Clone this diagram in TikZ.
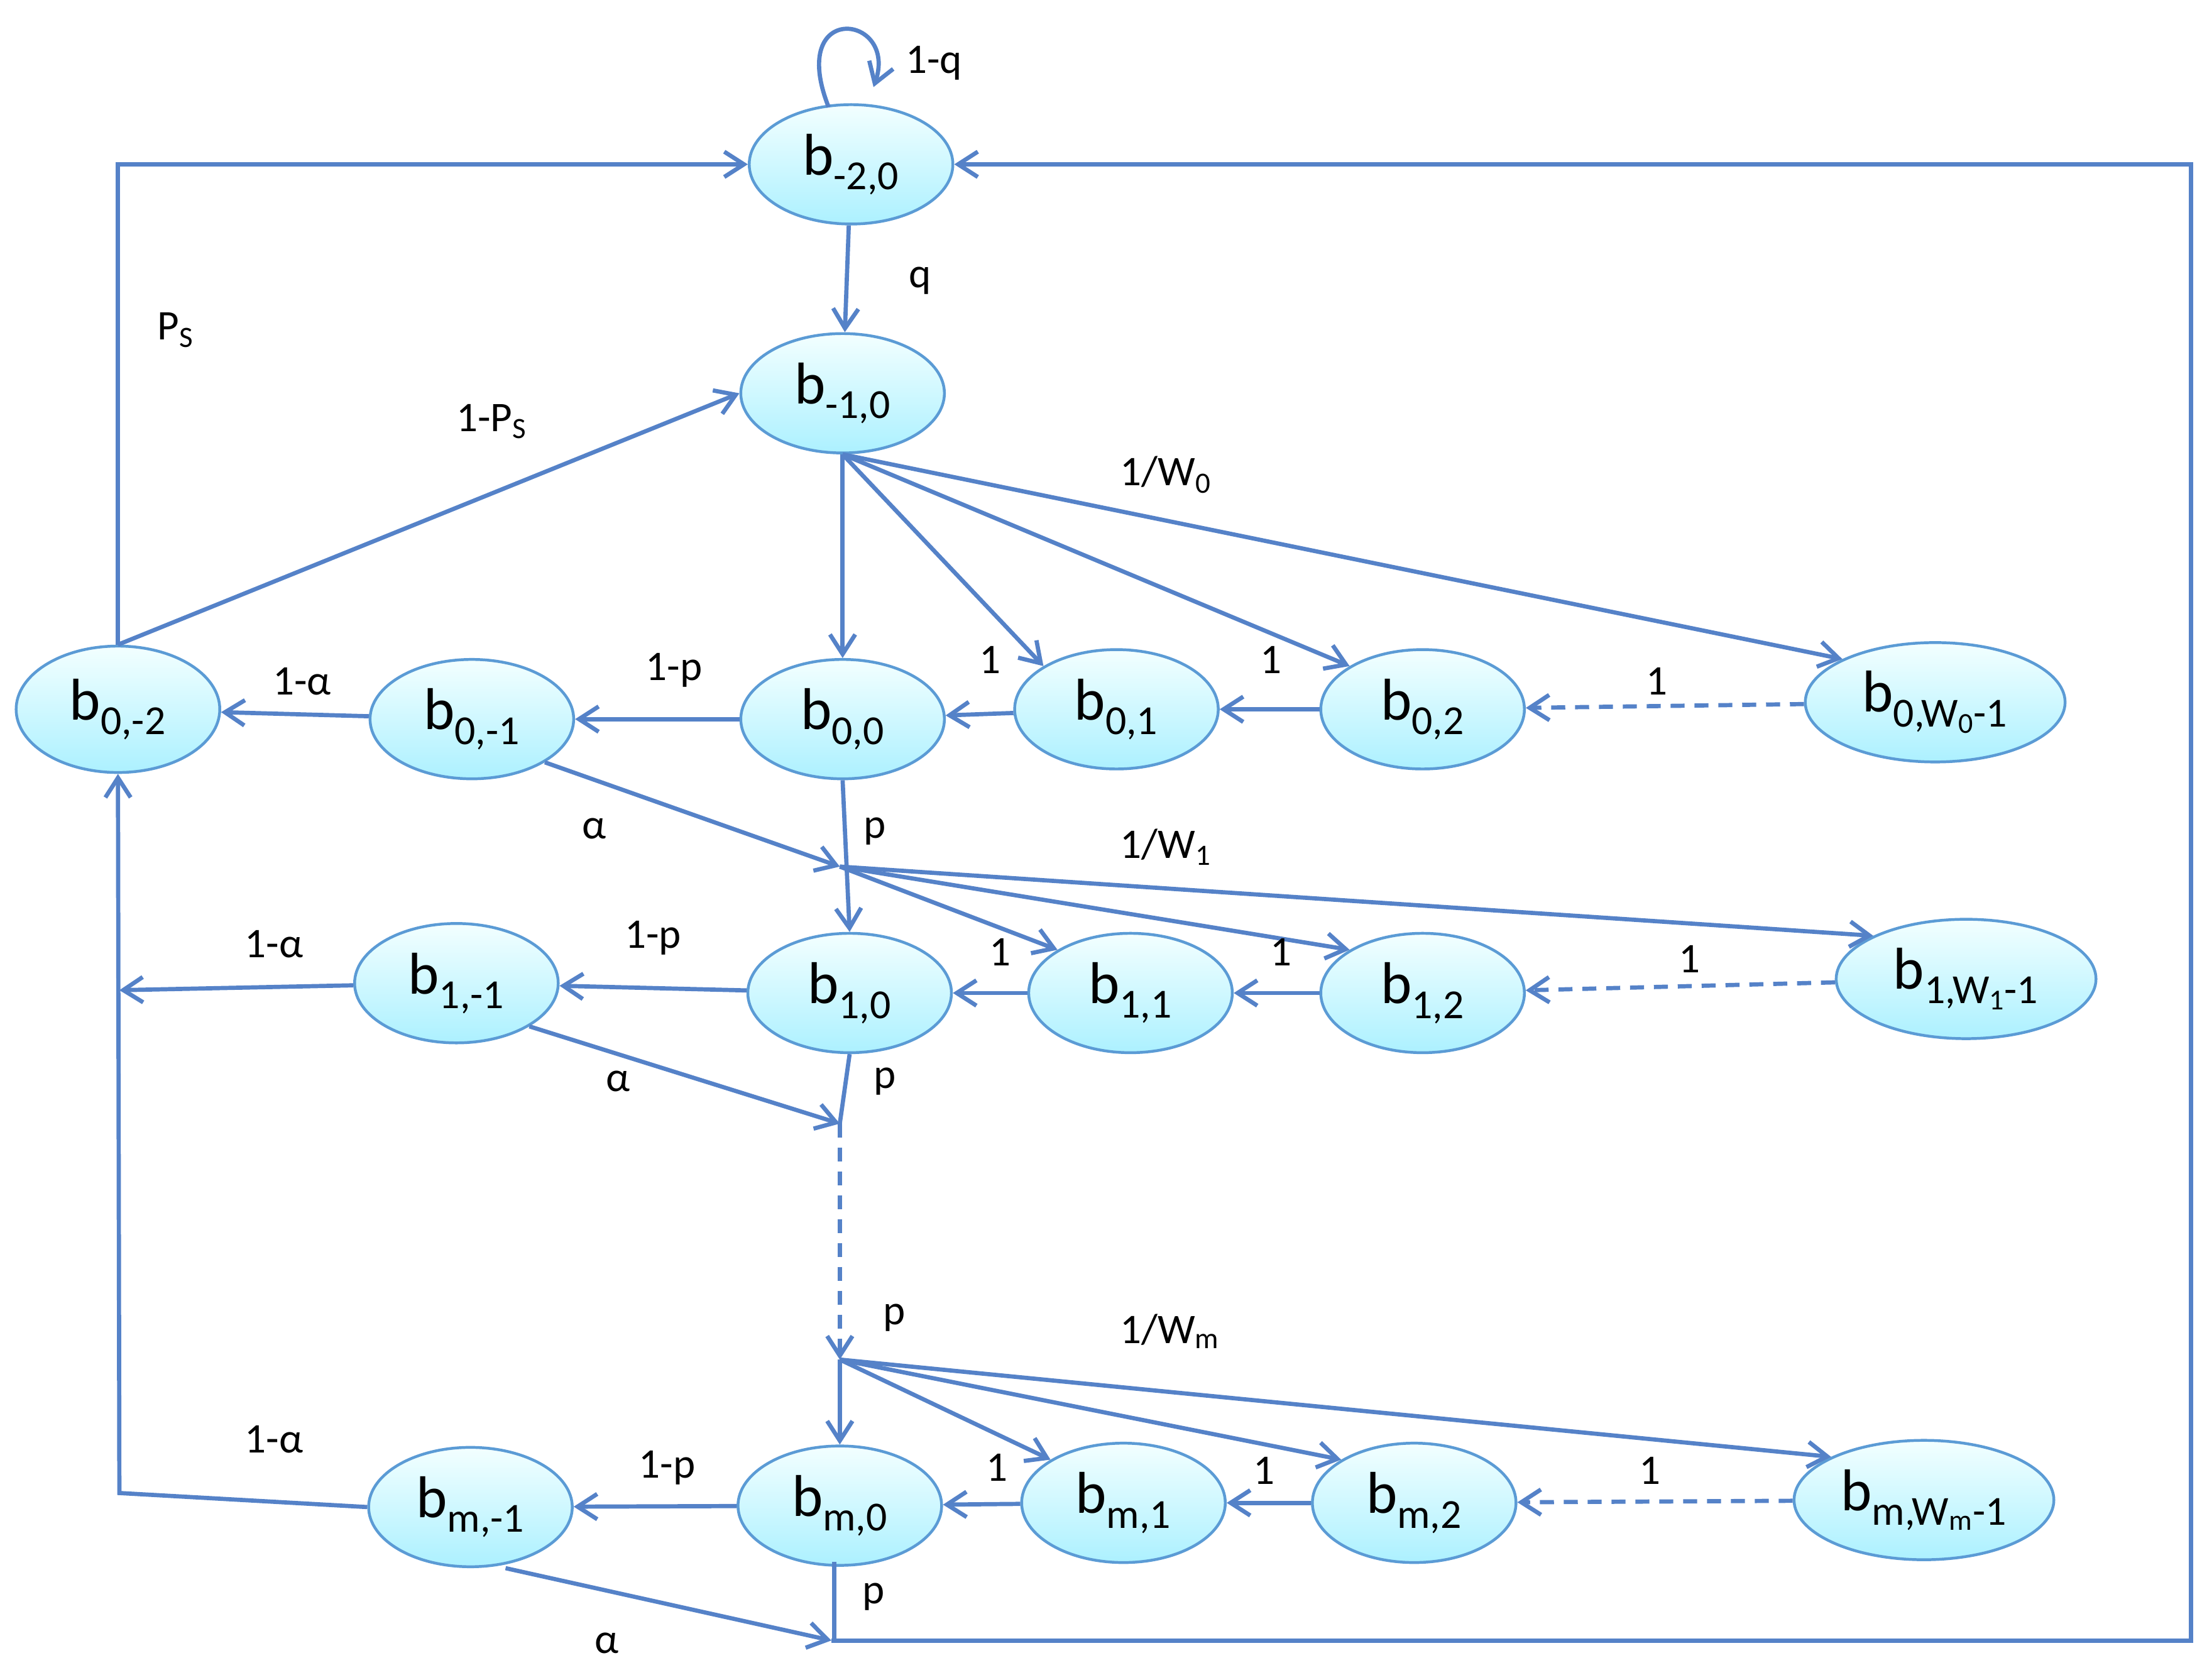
\documentclass[tikz,border=0pt]{standalone}
\usepackage{fontspec}
\setmainfont{Carlito}
\usetikzlibrary{shapes.geometric,arrows.meta}
\definecolor{ln}{HTML}{5582C8}
\definecolor{bd}{HTML}{5B9BD5}
\tikzset{
 st/.style={ellipse,draw=bd,line width=2pt,top color=white!60!cyan!12,bottom color=cyan!25!blue!10!white!75!cyan,
   minimum width=145pt,minimum height=85pt,inner sep=0pt,font=\fontsize{42}{48}\selectfont},
 wide/.style={minimum width=185pt},
 ar/.style={draw=ln,line width=3pt,-{Straight Barb[length=14pt,width=18pt,line width=3pt]}},
 pl/.style={draw=ln,line width=3pt},
 dsh/.style={dash pattern=on 10pt off 7pt},
 lb/.style={font=\fontsize{30}{34}\selectfont}
}
\newcommand{\sbs}[1]{\textsubscript{#1}}
\begin{document}
\begin{tikzpicture}[x=1pt,y=-1pt]
\useasboundingbox (0,0) rectangle (1568,1196);
\node[st] (a) at (606,117) {b\sbs{-2,0}};
\node[st] (b) at (600,280) {b\sbs{-1,0}};
\node[st,minimum height=90pt] (z2) at (84,505) {b\sbs{0,-2}};
\node[st] (z1) at (336,512) {b\sbs{0,-1}};
\node[st] (z0) at (600,512) {b\sbs{0,0}};
\node[st] (za) at (795,505) {b\sbs{0,1}};
\node[st] (zb) at (1013,505) {b\sbs{0,2}};
\node[st,wide] (zw) at (1378,500) {b\sbs{0,W\sbs{0}-1}};
\node[st] (o1) at (325,700) {b\sbs{1,-1}};
\node[st] (o0) at (605,707) {b\sbs{1,0}};
\node[st] (oa) at (805,707) {b\sbs{1,1}};
\node[st] (ob) at (1013,707) {b\sbs{1,2}};
\node[st,wide] (ow) at (1400,697) {b\sbs{1,W\sbs{1}-1}};
\node[st] (m1) at (335,1073) {b\sbs{m,-1}};
\node[st] (m0) at (598,1072) {b\sbs{m,0}};
\node[st] (ma) at (800,1070) {b\sbs{m,1}};
\node[st] (mb) at (1007,1070) {b\sbs{m,2}};
\node[st,wide] (mw) at (1370,1068) {b\sbs{m,W\sbs{m}-1}};
\coordinate (j0) at (598,617);
\coordinate (j1) at (598,800);
\coordinate (jm) at (598,968);
\coordinate (jb) at (592,1168);
% self loop
\draw[ar] (a.north west) ++(36,-10) .. controls (560,0) and (640,10) .. (622,62);
\node[lb] (lq1) at (665,45) {1-q};
\draw[ar] (a) -- (b); \node[lb] (lq) at (655,200) {q};
\draw[ar] (b.south) -- (z0.north);
\draw[ar] (b.south) -- (za.north west);
\draw[ar] (b.south) -- (zb.north west);
\draw[ar] (b.south) -- (zw.north west);
\node[lb] (l1w0) at (830,338) {1/W\sbs{0}};
\draw[ar] (z2.north) -- (b.west); \node[lb] (lps1) at (350,300) {1-P\sbs{S}};
\draw[ar] (z2.north) -- (84,117) -- (a.west); \node[lb] (lps) at (125,235) {P\sbs{S}};
\draw[ar] (jb) -- (1560,1168) -- (1560,117) -- (a.east);
% row 0
\draw[ar] (z0) -- (z1); \node[lb] (l01) at (480,477) {1-p};
\draw[ar] (z1) -- (z2); \node[lb] (l02) at (215,485) {1-α};
\draw[ar] (za) -- (z0); \node[lb] (l03) at (705,470) {1};
\draw[ar] (zb) -- (za); \node[lb] (l04) at (905,470) {1};
\draw[ar,dsh] (zw) -- (zb); \node[lb] (l05) at (1180,485) {1};
\draw[ar] (z0.south) -- (o0.north); \node[lb] (l06) at (623,592) {p};
\draw[ar] (z1.south east) -- (j0); \node[lb] (l07) at (423,590) {α};
\draw[ar] (j0) -- (oa.north west);
\draw[ar] (j0) -- (ob.north west);
\draw[ar] (j0) -- (ow.north west);
\node[lb] (l1w1) at (830,603) {1/W\sbs{1}};
% row 1
\draw[ar] (o0) -- (o1); \node[lb] (l11) at (465,668) {1-p};
\draw[ar] (o1) -- (85,705); \node[lb] (l12) at (195,672) {1-α};
\draw[ar] (oa) -- (o0); \node[lb] (l13) at (712,678) {1};
\draw[ar] (ob) -- (oa); \node[lb] (l14) at (912,678) {1};
\draw[ar,dsh] (ow) -- (ob); \node[lb] (l15) at (1203,683) {1};
\draw[pl] (o0.south) -- (j1); \node[lb] (l16) at (630,770) {p};
\draw[ar] (o1.south east) -- (j1); \node[lb] (l17) at (440,770) {α};
\draw[ar,dsh] (j1) -- (jm); \node[lb] (l18) at (637,938) {p};
\draw[ar] (jm) -- (m0.north);
\draw[ar] (jm) -- (ma.north west);
\draw[ar] (jm) -- (mb.north west);
\draw[ar] (jm) -- (mw.north west);
\node[lb] (l1wm) at (833,948) {1/W\sbs{m}};
% row m
\draw[ar] (m0) -- (m1); \node[lb] (lm1) at (475,1045) {1-p};
\draw[ar] (m1.west) -- (85,1063) -- (z2.south); \node[lb] (lm2) at (195,1025) {1-α};
\draw[ar] (ma) -- (m0); \node[lb] (lm3) at (710,1045) {1};
\draw[ar] (mb) -- (ma); \node[lb] (lm4) at (900,1047) {1};
\draw[ar,dsh] (mw) -- (mb); \node[lb] (lm5) at (1175,1047) {1};
\draw[ar] (m1.south) ++(25,0) -- (jb); \node[lb] (lm6) at (432,1170) {α};
\draw[pl] (594,1112) -- (594,1168) -- (jb); \node[lb] (lm7) at (622,1137) {p};
\end{tikzpicture}
\end{document}
